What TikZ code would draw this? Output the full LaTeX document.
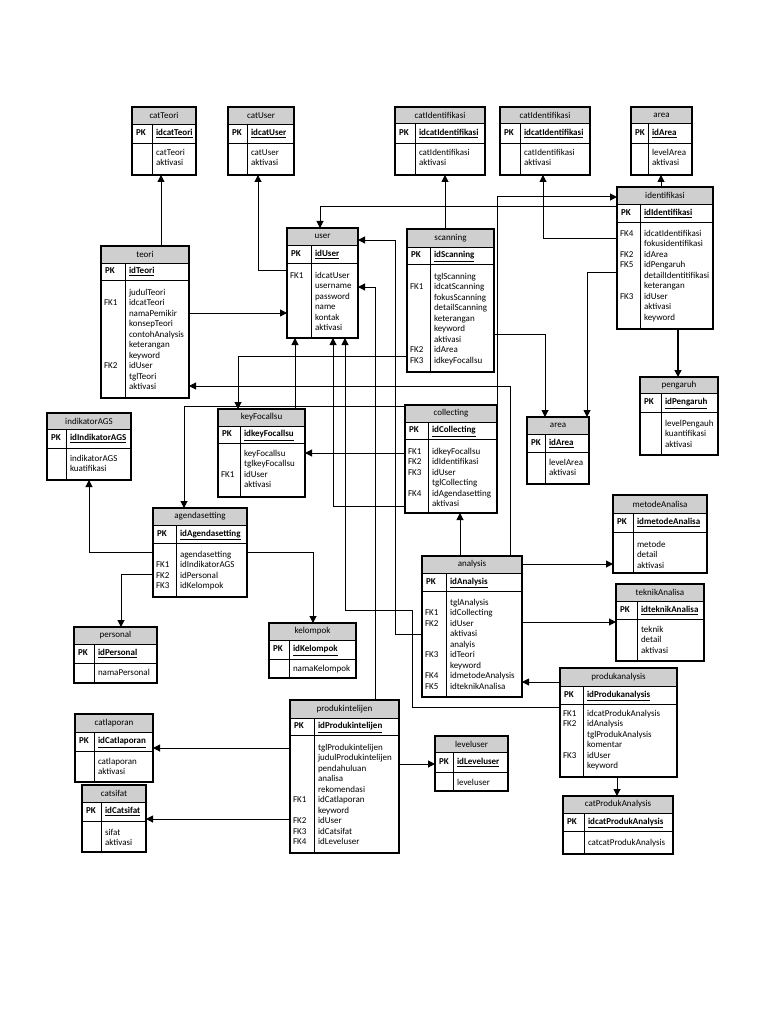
\documentclass[tikz,border=0pt]{standalone}
\usepackage{fontspec}
\setmainfont{Carlito}
\usetikzlibrary{arrows.meta}
\tikzset{
  hdr/.style={fill=black!19},
  tline/.style={line width=0.8pt},
  tbox/.style={draw, line width=1.1pt, rectangle, inner sep=0pt, outer sep=0pt},
  txt/.style={inner sep=0pt, outer sep=0pt},
  fk/.style={draw, line width=1pt, -{Triangle[length=7pt,width=7pt]}},
}
\newcommand\ertbl[8]{%
  \xdef\tN{#1}\xdef\tXa{#2}\xdef\tYa{#3}\xdef\tXb{#4}\xdef\tYb{#5}\xdef\tHb{#6}\xdef\tPb{#7}\xdef\tDv{#8}%
  \fill[hdr] (#2,#3) rectangle (#4,#6);
  \draw[tline] (#2,#6) -- (#4,#6) (#2,#7) -- (#4,#7) (#8,#6) -- (#8,#5);
  \node[tbox, minimum width={#4-#2}, minimum height={#5-#3}] (#1) at ({(#2+#4)/2},{(#3+#5)/2}) {};
}
\newcommand\ertxt[4]{%
  \node[txt] (\tN-title) at ({(\tXa+\tXb)/2},{(\tYa+\tHb)/2}) {#1};
  \node[txt, anchor=mid west] (\tN-pkl) at ({\tXa+4},{(\tHb+\tPb)/2}) {\textbf{PK}};
  \node[txt, anchor=mid west] (\tN-pk) at ({\tDv+4},{(\tHb+\tPb)/2}) {\underline{\textbf{#2}}};
  \foreach \f/\a [count=\i from 0] in {#4} {
    \node[txt, anchor=mid west] (\tN-f\i) at ({\tXa+3},{#3+\i*10.5}) {\f};
    \node[txt, anchor=mid west] (\tN-a\i) at ({\tDv+4},{#3+\i*10.5}) {\a};
  }
}
\begin{document}
\begin{tikzpicture}[x=1pt, y=-1pt, font=\fontsize{9}{10.5}\selectfont]
\fill[white] (0,0) rectangle (768,1024);
\useasboundingbox (0,0) rectangle (768,1024);

% ---- tables ----
\ertbl{catTeori}{132}{107}{196}{175}{124}{143}{152}
\ertxt{catTeori}{idcatTeori}{153}{/catTeori,/aktivasi}

\ertbl{catUser}{228}{107}{294}{175}{124}{143}{247}
\ertxt{catUser}{idcatUser}{153}{/catUser,/aktivasi}

\ertbl{catIdentA}{395}{107}{485}{175}{123}{143}{415}
\ertxt{catIdentifikasi}{idcatIdentifikasi}{153}{/catIdentifikasi,/aktivasi}

\ertbl{catIdentB}{500}{107}{590}{175}{123}{143}{520}
\ertxt{catIdentifikasi}{idcatIdentifikasi}{153}{/catIdentifikasi,/aktivasi}

\ertbl{areaTop}{631}{107}{692}{175}{123}{143}{648}
\ertxt{area}{idArea}{153}{/levelArea,/aktivasi}

\ertbl{identifikasi}{617}{187}{713}{329}{204}{222}{640}
\ertxt{identifikasi}{idIdentifikasi}{234}{FK4/idcatIdentifikasi,/fokusidentifikasi,FK2/idArea,FK5/idPengaruh,/detailIdentitifikasi,/keterangan,FK3/idUser,/aktivasi,/keyword}

\ertbl{teori}{101}{246}{189}{398}{263}{280}{125}
\ertxt{teori}{idTeori}{293}{/judulTeori,FK1/idcatTeori,/namaPemikir,/konsepTeori,/contohAnalysis,/keterangan,/keyword,FK2/idUser,/tglTeori,/aktivasi}

\ertbl{user}{287}{228}{358}{338}{245}{263}{311}
\ertxt{user}{idUser}{276}{FK1/idcatUser,/username,/password,/name,/kontak,/aktivasi}

\ertbl{scanning}{407}{229}{494}{372}{247}{264}{430}
\ertxt{scanning}{idScanning}{277}{/tglScanning,FK1/idcatScanning,/fokusScanning,/detailScanning,/keterangan,/keyword,/aktivasi,FK2/idArea,FK3/idkeyFocallsu}

\ertbl{keyFocallsu}{218}{409}{305}{497}{426}{443}{240}
\ertxt{keyFocallsu}{idkeyFocallsu}{454}{/keyFocallsu,/tglkeyFocallsu,FK1/idUser,/aktivasi}

\ertbl{indikatorAGS}{47}{413}{131}{480}{429}{448}{66}
\ertxt{indikatorAGS}{idIndikatorAGS}{459}{/indikatorAGS,/kuatifikasi}

\ertbl{collecting}{405}{405}{497}{513}{422}{439}{428}
\ertxt{collecting}{idCollecting}{452}{FK1/idkeyFocallsu,FK2/idIdentifikasi,FK3/idUser,/tglCollecting,FK4/idAgendasetting,/aktivasi}

\ertbl{areaMid}{527}{417}{589}{484}{434}{452}{545}
\ertxt{area}{idArea}{463}{/levelArea,/aktivasi}

\ertbl{pengaruh}{640}{377}{718}{455}{393}{412}{661}
\ertxt{pengaruh}{idPengaruh}{424}{/levelPengauh,/kuantifikasi,/aktivasi}

\ertbl{agendasetting}{153}{508}{247}{597}{525}{543}{176}
\ertxt{agendasetting}{idAgendasetting}{555}{/agendasetting,FK1/idIndikatorAGS,FK2/idPersonal,FK3/idKelompok}

\ertbl{personal}{74}{627}{157}{683}{644}{663}{94}
\ertxt{personal}{idPersonal}{673}{/namaPersonal}

\ertbl{kelompok}{269}{623}{356}{678}{640}{659}{289}
\ertxt{kelompok}{idKelompok}{669}{/namaKelompok}

\ertbl{metodeAnalisa}{613}{495}{707}{573}{513}{532}{633}
\ertxt{metodeAnalisa}{idmetodeAnalisa}{545}{/metode,/detail,/aktivasi}

\ertbl{teknikAnalisa}{616}{584}{704}{661}{601}{619}{637}
\ertxt{teknikAnalisa}{idteknikAnalisa}{630}{/teknik,/detail,/aktivasi}

\ertbl{analysis}{422}{556}{522}{697}{573}{591}{446}
\ertxt{analysis}{idAnalysis}{603}{/tglAnalysis,FK1/idCollecting,FK2/idUser,/aktivasi,/analyis,FK3/idTeori,/keyword,FK4/idmetodeAnalysis,FK5/idteknikAnalisa}

\ertbl{produkanalysis}{560}{668}{677}{777}{686}{704}{583}
\ertxt{produkanalysis}{idProdukanalysis}{714}{FK1/idcatProdukAnalysis,FK2/idAnalysis,/tglProdukAnalysis,/komentar,FK3/idUser,/keyword}

\ertbl{catProdukAnalysis}{563}{796}{673}{854}{813}{831}{584}
\ertxt{catProdukAnalysis}{idcatProdukAnalysis}{843}{/catcatProdukAnalysis}

\ertbl{catlaporan}{75}{714}{153}{782}{732}{751}{94}
\ertxt{catlaporan}{idCatlaporan}{762}{/catlaporan,/aktivasi}

\ertbl{catsifat}{82}{785}{146}{852}{802}{821}{101}
\ertxt{catsifat}{idCatsifat}{833}{/sifat,/aktivasi}

\ertbl{produkintelijen}{290}{700}{399}{853}{718}{735}{314}
\ertxt{produkintelijen}{idProdukintelijen}{748}{/tglProdukintelijen,/judulProdukintelijen,/pendahuluan,/analisa,/rekomendasi,FK1/idCatlaporan,/keyword,FK2/idUser,FK3/idCatsifat,FK4/idLeveluser}

\ertbl{leveluser}{435}{736}{508}{791}{752}{772}{453}
\ertxt{leveluser}{idLeveluser}{783}{/leveluser}

% ---- bend points ----
\coordinate (bPA) at (412,610);
\coordinate (bAU) at (395,240);

% ---- connectors ----
\draw[fk] (teori.north -| 161,0) -- (catTeori.south -| 161,0);
\draw[fk] (user.west |- 0,270) -| (catUser.south -| 258,0);
\draw[fk] (teori.east |- 0,313) -- (user.west |- 0,313);
\draw[fk] (scanning.north -| 445,0) -- (catIdentA.south -| 445,0);
\draw[fk] (identifikasi.west |- 0,238) -| (catIdentB.south -| 543,0);
\draw[fk] (identifikasi.north -| 661,0) -- (areaTop.south -| 661,0);
\draw[fk] (identifikasi.west |- 0,207) -| (user.north -| 320,0);
\draw[fk] (collecting.north -| 497,0) |- (identifikasi.west |- 0,197);
\draw[fk] (scanning.east |- 0,334) -| (areaMid.north -| 545,0);
\draw[fk] (identifikasi.west |- 0,272) -| (areaMid.north -| 587,0);
\draw[fk, line width=1.4pt] (identifikasi.south -| 678,0) -- (pengaruh.north -| 678,0);
\draw[fk] (scanning.west |- 0,356) -| (keyFocallsu.north -| 238,0);
\draw[fk] (keyFocallsu.north -| 295,0) -- (user.south -| 295,0);
\draw[fk] (collecting.west |- 0,453) -- (keyFocallsu.east |- 0,453);
\draw[fk] (collecting.west |- 0,406) -| (agendasetting.north -| 184,0);
\draw[fk] (analysis.north -| 510,0) |- (teori.east |- 0,386);
\draw[fk] (analysis.north -| 460,0) -- (collecting.south -| 460,0);
\draw[fk] (agendasetting.west |- 0,552) -| (indikatorAGS.south -| 89,0);
\draw[fk] (agendasetting.west |- 0,574) -| (personal.north -| 121,0);
\draw[fk] (agendasetting.east |- 0,552) -| (kelompok.north -| 313,0);
\draw[fk] (analysis.east |- 0,564) -- (metodeAnalisa.west |- 0,564);
\draw[fk] (analysis.east |- 0,622) -- (teknikAnalisa.west |- 0,622);
\draw[fk] (produkanalysis.west |- 0,682) -- (analysis.east |- 0,682);
\draw[fk] (produkanalysis.south -| 617,0) -- (catProdukAnalysis.north -| 617,0);
\draw[fk] (produkanalysis.west |- 0,707) -| (bPA) -| (user.south -| 345,0);
\draw[fk] (analysis.west |- 0,634) -| (bAU) -- (user.east |- 0,240);
\draw[fk] (collecting.west |- 0,506) -| (user.south -| 333,0);
\draw[fk] (produkintelijen.north -| 375,0) |- (user.east |- 0,287);
\draw[fk] (produkintelijen.west |- 0,748) -- (catlaporan.east |- 0,748);
\draw[fk] (produkintelijen.west |- 0,819) -- (catsifat.east |- 0,819);
\draw[fk] (produkintelijen.east |- 0,764) -- (leveluser.west |- 0,764);
\end{tikzpicture}
\end{document}
